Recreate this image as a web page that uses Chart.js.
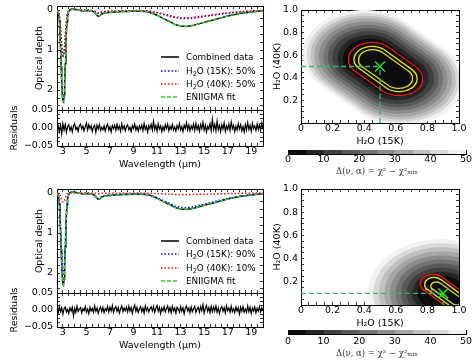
<!DOCTYPE html>
<html><head><meta charset="utf-8">
<script src="https://cdn.jsdelivr.net/npm/chart.js@4.4.0/dist/chart.umd.min.js"></script>
<style>
html,body{margin:0;padding:0;background:#fff;width:474px;height:363px;overflow:hidden;position:relative;font-family:'DejaVu Sans',sans-serif;}
canvas{position:absolute;}
.leg{position:absolute;left:161px;font:8.8px 'DejaVu Sans',sans-serif;color:#000;white-space:nowrap;}
.leg svg{position:absolute;left:0;top:0;}
.leg span{position:absolute;left:25px;top:0;line-height:12px;}
.leg sub{font-size:6.5px;vertical-align:-2px;line-height:0;}
</style></head>
<body>
<script>
// ---------------- DATA ----------------
const wavelength = [2.5,2.6,2.7,2.75,2.8,2.85,2.9,2.95,3.0,3.05,3.1,3.15,3.2,3.25,3.3,3.35,3.4,3.5,3.6,3.8,4.0,4.3,4.6,5.0,5.4,5.7,5.9,6.0,6.1,6.3,6.6,7.0,7.5,8.0,8.5,9.0,9.5,10.0,10.3,10.6,11.0,11.5,12.0,12.5,13.0,13.5,14.0,14.5,15.0,15.5,16.0,16.5,17.0,17.5,18.0,18.5,19.0,19.5,20.0];
const combinedData = [0.02,0.05,0.25,0.55,0.95,1.40,1.80,2.10,2.28,2.30,2.15,1.80,1.35,0.90,0.55,0.30,0.15,0.04,-0.01,-0.03,-0.02,0.00,0.02,0.01,0.02,0.06,0.13,0.16,0.15,0.10,0.07,0.06,0.05,0.04,0.035,0.03,0.03,0.035,0.05,0.08,0.13,0.21,0.28,0.36,0.40,0.41,0.39,0.35,0.31,0.27,0.23,0.19,0.15,0.12,0.09,0.07,0.05,0.03,0.02];
const fitTop = [0.02,0.05,0.24,0.54,0.96,1.41,1.81,2.11,2.29,2.30,2.14,1.79,1.34,0.89,0.54,0.29,0.14,0.04,-0.01,-0.03,-0.02,0.00,0.02,0.01,0.02,0.06,0.13,0.16,0.15,0.10,0.07,0.06,0.05,0.04,0.035,0.03,0.03,0.035,0.05,0.08,0.13,0.21,0.28,0.36,0.40,0.41,0.39,0.35,0.31,0.27,0.23,0.19,0.15,0.12,0.09,0.07,0.05,0.03,0.02];
const h2o15Top = [0.01,0.03,0.13,0.28,0.49,0.72,0.92,1.07,1.15,1.15,1.07,0.89,0.66,0.44,0.27,0.15,0.07,0.02,-0.005,-0.015,-0.01,0.00,0.01,0.005,0.01,0.03,0.07,0.08,0.075,0.05,0.035,0.03,0.025,0.02,0.018,0.015,0.015,0.018,0.026,0.042,0.068,0.11,0.15,0.19,0.21,0.215,0.205,0.185,0.165,0.14,0.12,0.10,0.08,0.062,0.047,0.036,0.026,0.016,0.01];
const h2o40Top = [0.01,0.02,0.12,0.27,0.46,0.68,0.88,1.03,1.13,1.15,1.08,0.91,0.69,0.46,0.28,0.15,0.08,0.02,-0.005,-0.015,-0.01,0.00,0.01,0.005,0.01,0.03,0.06,0.08,0.075,0.05,0.035,0.03,0.025,0.02,0.017,0.015,0.015,0.017,0.024,0.038,0.062,0.10,0.13,0.17,0.19,0.195,0.185,0.165,0.145,0.13,0.11,0.09,0.07,0.058,0.043,0.034,0.024,0.014,0.01];
const fitBot = [0.02,0.05,0.25,0.56,0.96,1.40,1.79,2.09,2.27,2.30,2.16,1.81,1.35,0.90,0.55,0.30,0.15,0.04,-0.01,-0.03,-0.02,0.00,0.02,0.01,0.02,0.06,0.13,0.16,0.15,0.10,0.07,0.06,0.05,0.04,0.035,0.03,0.03,0.035,0.05,0.08,0.13,0.21,0.28,0.36,0.40,0.41,0.39,0.35,0.31,0.27,0.23,0.19,0.15,0.12,0.09,0.07,0.05,0.03,0.02];
const h2o15Bot = [0.02,0.045,0.22,0.50,0.86,1.26,1.62,1.89,2.05,2.07,1.94,1.62,1.22,0.81,0.50,0.27,0.13,0.035,-0.01,-0.027,-0.018,0.00,0.018,0.009,0.018,0.054,0.117,0.144,0.135,0.09,0.063,0.054,0.045,0.036,0.032,0.027,0.027,0.032,0.045,0.072,0.117,0.19,0.25,0.325,0.36,0.37,0.35,0.315,0.28,0.245,0.205,0.17,0.135,0.11,0.08,0.063,0.045,0.027,0.018];
const h2o40Bot = [0.002,0.005,0.025,0.055,0.095,0.14,0.18,0.21,0.23,0.23,0.215,0.18,0.135,0.09,0.055,0.03,0.015,0.004,-0.001,-0.003,-0.002,0.00,0.002,0.001,0.002,0.006,0.013,0.016,0.015,0.01,0.007,0.006,0.005,0.004,0.0035,0.003,0.003,0.0035,0.005,0.008,0.013,0.021,0.028,0.036,0.04,0.041,0.039,0.035,0.031,0.027,0.023,0.019,0.015,0.012,0.009,0.007,0.005,0.003,0.002];

const residTop = [-0.004,0.006,-0.010,0.008,-0.016,0.012,-0.006,0.010,-0.012,0.004,
 0.009,-0.007,0.003,-0.011,0.006,0.012,-0.004,0.002,-0.009,0.007,
 0.011,-0.003,0.005,-0.008,0.004,0.014,-0.006,0.009,-0.002,0.006,
 -0.010,0.003,0.007,-0.012,0.008,-0.003,0.010,-0.007,0.002,-0.005,
 0.006,-0.009,0.004,0.011,-0.006,0.003,-0.011,0.007,-0.002,0.008,
 -0.006,0.010,-0.004,0.005,-0.009,0.012,-0.003,0.006,-0.008,0.004,
 0.009,-0.005,0.002,-0.010,0.007,-0.002,0.011,-0.006,0.004,-0.009,
 0.006,-0.003,0.008,-0.007,0.013,-0.004,0.005,-0.011,0.007,-0.002,
 0.010,-0.006,0.018,-0.004,0.007,-0.009,0.012,-0.003,0.006,-0.010,
 0.004,-0.007,0.009,-0.002,0.011,-0.008,0.005,-0.004,0.010,-0.006,
 0.003,-0.009,0.007,-0.003,0.012,-0.006,0.004,-0.010,0.008,-0.002,
 0.015,-0.005,0.009,-0.008,0.006,-0.003,0.011,-0.007,0.013,-0.004,
 0.007,-0.009,0.010,-0.002,0.016,-0.006,0.008,-0.011,0.005,-0.003,
 0.012,-0.007,0.024,-0.004,0.010,-0.008,0.019,-0.005,0.007,-0.010,
 0.009,-0.003,0.014,-0.009,0.006,-0.004,0.011,-0.007,0.017,-0.002,
 0.008,-0.010,0.005,-0.006,0.012,-0.003,0.009,-0.008,0.004,-0.011,
 0.010,-0.005,0.015,-0.004,0.007,-0.009,0.013,-0.002,0.006,-0.007,
 0.011,-0.004,0.009,-0.006,0.014,-0.003];
const residBot = [0.003,-0.008,0.010,-0.005,0.007,-0.012,0.004,0.009,-0.006,0.002,
 -0.010,0.006,-0.003,0.008,-0.018,0.005,-0.007,0.011,-0.004,0.003,
 0.007,-0.009,0.004,-0.002,0.010,-0.006,0.003,-0.011,0.008,-0.003,
 0.005,-0.007,0.012,-0.004,0.006,-0.010,0.002,0.009,-0.005,0.007,
 -0.008,0.004,-0.002,0.011,-0.006,0.008,-0.003,0.013,-0.007,0.005,
 0.010,-0.004,0.007,-0.009,0.003,0.012,-0.005,0.006,-0.002,0.009,
 -0.006,0.011,-0.003,0.007,-0.010,0.005,0.014,-0.004,0.008,-0.007,
 0.003,0.010,-0.005,0.006,-0.009,0.012,-0.002,0.007,-0.006,0.004,
 0.009,-0.003,0.011,-0.007,0.005,0.013,-0.004,0.008,-0.010,0.006,
 -0.002,0.010,-0.006,0.004,0.012,-0.005,0.007,-0.008,0.011,-0.003,
 0.006,-0.009,0.008,0.003,-0.006,0.010,-0.004,0.007,-0.011,0.005,
 0.012,-0.003,0.006,-0.008,0.009,-0.005,0.004,0.011,-0.007,0.003,
 0.008,-0.006,0.010,-0.002,0.016,-0.009,0.005,0.013,-0.004,0.007,
 -0.008,0.011,-0.005,0.009,-0.003,0.012,-0.007,0.006,-0.010,0.004,
 0.010,-0.004,0.007,-0.009,0.013,-0.002,0.006,-0.007,0.011,-0.005,
 0.004,-0.008,0.009,-0.003,0.006,-0.012,0.008,-0.004,0.010,-0.006,
 0.003,-0.007,0.012,-0.005,0.008,-0.010,0.006,-0.003,0.009,-0.008,
 0.005,-0.004,0.010,-0.006,0.007,-0.003];

const waveLabels = [3,5,7,9,11,13,15,17,19];
const depthLabels = [0,1,2];
const residLabels = [-0.05,0,0.05];
const fracLabels = [0,0.2,0.4,0.6,0.8,1.0];
const cbarLabels = [0,10,20,30,40,50];
const cbarLevels = [0,5,10,15,20,25,30,35,40,45,50];

// chi-square contour geometry (centre, half-length, radius in data units)
const topBandCenter = [0.52,0.49];
const topBandHalfLen = [0.12,0.125,0.13,0.135,0.14,0.145,0.15,0.155,0.16,0.17];
const topBandRadius  = [0.17,0.20,0.23,0.255,0.28,0.305,0.33,0.35,0.37,0.39];
const topLineCenter = [0.535,0.478];
const topLineHalfLen = [0.12,0.12,0.115];
const topLineRadius  = [0.15,0.115,0.09];
const topBest = [0.5,0.5];

const botBandCenter = [0.93,0.06];
const botBandHalfLen = [0.06,0.06,0.06,0.06,0.06,0.06,0.06,0.06,0.06,0.06];
const botBandRadius  = [0.15,0.185,0.22,0.255,0.29,0.325,0.36,0.395,0.43,0.465];
const botLineCenter = [0.92,0.1];
const botLineHalfLen = [0.12,0.11,0.09];
const botLineRadius  = [0.08,0.06,0.035];
const botBest = [0.9,0.1];

// ---------------- SETUP ----------------
const FS = 9.5;
Chart.defaults.font.family = "'DejaVu Sans', sans-serif";
Chart.defaults.font.size = FS;
Chart.defaults.color = '#000';

const pts = (xs, ys) => xs.map((x,i)=>({x, y: ys[i]}));
const residWave = residTop.map((_,i)=> +(2.5+0.1*i).toFixed(1));
const waveTicks = []; for (let i=0;i<=34;i++) waveTicks.push(3+0.5*i);
const depthTicks = []; for (let i=0;i<=12;i++) depthTicks.push(+(0.2*i).toFixed(1));
const residTicks = []; for (let i=-4;i<=4;i++) residTicks.push(+(0.0125*i).toFixed(4));
const fracTicks = []; for (let i=0;i<=20;i++) fracTicks.push(+(0.05*i).toFixed(2));
const near = (a,b)=>Math.abs(a-b)<1e-9;
const noPad = s => { s.paddingLeft=0; s.paddingRight=0; s.paddingTop=0; s.paddingBottom=0; };

function mk(left, top, w, h, cfg){
  const c=document.createElement('canvas'); c.width=w; c.height=h;
  c.style.left=left+'px'; c.style.top=top+'px'; c.style.width=w+'px'; c.style.height=h+'px';
  document.body.appendChild(c);
  cfg.options = Object.assign({responsive:false, maintainAspectRatio:false, animation:false, devicePixelRatio:1, events:[],
    layout:{padding:0}, plugins:{legend:{display:false}, tooltip:{enabled:false}}}, cfg.options);
  return new Chart(c, cfg);
}

function axis(pos, min, max, vals, labelFn, o){
  const isX = pos==='top'||pos==='bottom';
  return {
    type:'linear', position:pos, min, max, reverse: !!o.reverse,
    afterBuildTicks: s => { s.ticks = vals.map(v=>({value:v})); },
    afterFit: s => { if(isX) s.height=o.size; else s.width=o.size; noPad(s); },
    ticks: { display: !!labelFn, autoSkip:false, maxRotation:0, minRotation:0, padding: o.pad ?? 7,
             color:'#000', font:{size:FS}, callback: v => labelFn ? labelFn(v) : '' },
    grid: { drawOnChartArea:false, drawTicks:true, tickLength:-3, color:'#000', lineWidth:0.8 },
    border: { display:true, color:'#000', width:1 },
    title: o.title ? { display:true, text:o.title, color:'#000', font:{size:FS}, padding:o.tpad } : {display:false}
  };
}

const waveLab = v => waveLabels.some(w=>near(w,v)) ? String(v) : '';
const depthLab = v => depthLabels.some(w=>near(w,v)) ? String(v) : '';
const residLab = v => residLabels.some(w=>near(w,v)) ? (near(v,0)?'0.00':(v<0?'\u22120.05':'0.05')) : '';
const fracLabX = v => fracLabels.some(w=>near(w,v)) ? (near(v,0)?'0':v.toFixed(1)) : '';
const fracLabY = v => (fracLabels.some(w=>near(w,v)) && !near(v,0)) ? v.toFixed(1) : '';

function lineDs(x, y, color, width, dash, order){
  return {data: pts(x,y), showLine:true, pointRadius:0, borderColor:color, borderWidth:width, borderDash:dash, fill:false, order};
}

function specChart(top, h15, h40, fit){
  return mk(0, top, 270, 112, {type:'scatter', data:{datasets:[
      lineDs(wavelength, combinedData, '#000', 1.5, [], 3),
      lineDs(wavelength, h15, '#0000ff', 1.5, [1.5,2], 2),
      lineDs(wavelength, h40, '#ff0000', 1.5, [1.5,2], 1),
      lineDs(wavelength, fit, '#33cc33', 1.3, [4,2], 0)
    ]},
    options:{scales:{
      x: axis('bottom',2.5,20,waveTicks,null,{size:2}),
      x2: axis('top',2.5,20,waveTicks,null,{size:6}),
      y: axis('left',-0.1,2.5,depthTicks,depthLab,{size:57,pad:7,reverse:true,title:'Optical depth',tpad:{top:33.5,bottom:0}}),
      y2: axis('right',-0.1,2.5,depthTicks,null,{size:7,reverse:true})
    }}});
}

function residChart(top, h, areaH, resid, tpb){
  return mk(0, top, 270, h, {type:'scatter', data:{datasets:[
      lineDs(residWave, resid, '#000', 1.2, [], 0)
    ]},
    options:{scales:{
      x: axis('bottom',2.5,20,waveTicks,waveLab,{size:h-10-areaH,pad:3.3,title:'Wavelength (\u03bcm)',tpad:{top:0,bottom:tpb}}),
      x2: axis('top',2.5,20,waveTicks,null,{size:10}),
      y: axis('left',-0.05,0.05,residTicks,residLab,{size:57,pad:7,title:'Residuals',tpad:{top:9.3,bottom:0}}),
      y2: axis('right',-0.05,0.05,residTicks,null,{size:7})
    }}});
}

function stadium(cx, cy, L, r){
  const dx=Math.SQRT1_2, dy=-Math.SQRT1_2, out=[];
  for(let i=0;i<=120;i++){
    const t=2*Math.PI*i/120, ux=Math.cos(t), uy=Math.sin(t);
    const s=(ux*dx+uy*dy)>=0?1:-1;
    out.push({x:cx+s*L*dx+r*ux, y:cy+s*L*dy+r*uy});
  }
  return out;
}
const bandGray = k => { const g=Math.round(255*(k+0.5)/10); return `rgb(${g},${g},${g})`; };

function contourChart(top, h, topSize, P){
  const ds=[];
  for(let k=P.bR.length-1;k>=0;k--){
    ds.push({data:stadium(P.bC[0],P.bC[1],P.bL[k],P.bR[k]), showLine:true, pointRadius:0, borderWidth:0,
      borderColor:'rgba(0,0,0,0)', backgroundColor:bandGray(k), fill:'shape', order:100+k});
  }
  const lc=['#e8141c','#e6e21c','#d6dc1e'];
  P.lR.forEach((r,i)=>ds.push({data:stadium(P.lC[0],P.lC[1],P.lL[i],r), showLine:true, pointRadius:0,
      borderWidth:1.3, borderColor:lc[i], fill:false, order:10+i}));
  const g='#3cb371';
  ds.push({data:[{x:0,y:P.best[1]},{x:P.best[0],y:P.best[1]}], showLine:true, pointRadius:0, borderColor:g, borderWidth:1.3, borderDash:[5,3], fill:false, order:2});
  ds.push({data:[{x:P.best[0],y:0},{x:P.best[0],y:P.best[1]}], showLine:true, pointRadius:0, borderColor:g, borderWidth:1.3, borderDash:[5,3], fill:false, order:2});
  ds.push({data:[{x:P.best[0],y:P.best[1]}], showLine:false, pointStyle:'crossRot', pointRadius:7, pointBorderWidth:1.5, borderColor:'#22dd22', backgroundColor:'#22dd22', order:0});
  return mk(262, top, 212, h, {type:'scatter', data:{datasets:ds},
    options:{scales:{
      x: axis('bottom',0,1,fracTicks,fracLabX,{size:h-topSize-P.ah,pad:3.3,title:'H\u2082O (15K)',tpad:{top:0,bottom:3}}),
      x2: axis('top',0,1,fracTicks,null,{size:topSize}),
      y: axis('left',0,1,fracTicks,fracLabY,{size:39,pad:6,title:'H\u2082O (40K)',tpad:{top:10.3,bottom:0}}),
      y2: axis('right',0,1,fracTicks,null,{size:15})
    }}});
}

function cbarChart(top, h, areaH, labPad, titlePad){
  const ds = cbarLevels.slice(0,-1).map((v,k)=>({data:[cbarLevels[k+1]-v], backgroundColor:bandGray(k), borderWidth:0,
     barPercentage:1, categoryPercentage:1, stack:'c'}));
  return mk(270, top, 204, h, {type:'bar', data:{labels:[''], datasets:ds},
    options:{indexAxis:'y', layout:{padding:{left:18,right:8,top:0,bottom:0}},
     scales:{
      x:{type:'linear', position:'bottom', stacked:true, min:0, max:50,
         afterBuildTicks:s=>{s.ticks=cbarLabels.map(v=>({value:v}));}, afterFit:s=>{s.height=h-4-areaH; noPad(s);},
         ticks:{autoSkip:false, maxRotation:0, padding:labPad, color:'#000', font:{size:FS}},
         grid:{drawOnChartArea:false, drawTicks:false}, border:{display:true,color:'#000',width:1},
         title:{display:true, text:'\u0394(\u03bd, \u03b1) = \u03c7\u00b2 \u2212 \u03c7\u00b2\u2098\u1d62\u2099', color:'#333',
                font:{family:"'DejaVu Serif', serif", size:8.5}, padding:{top:0,bottom:titlePad}}},
      x2:{type:'linear', position:'top', min:0, max:50, afterFit:s=>{s.height=4; noPad(s);}, ticks:{display:false},
         grid:{drawOnChartArea:false, drawTicks:false}, border:{display:true,color:'#000',width:1}},
      y:{type:'category', position:'left', stacked:true, afterFit:s=>{s.width=0; noPad(s);}, ticks:{display:false},
         grid:{drawOnChartArea:false, drawTicks:false}, border:{display:true,color:'#000',width:1}},
      y2:{type:'category', position:'right', afterFit:s=>{s.width=0; noPad(s);}, ticks:{display:false},
         grid:{drawOnChartArea:false, drawTicks:false}, border:{display:true,color:'#000',width:1}}
     }}});
}

// ---------------- DRAW ----------------
specChart(0, h2o15Top, h2o40Top, fitTop);
residChart(100, 75, 36, residTop, 4.8);
specChart(183, h2o15Bot, h2o40Bot, fitBot);
residChart(283, 73, 34, residBot, 4.6);

contourChart(0, 150, 10, {bC:topBandCenter,bL:topBandHalfLen,bR:topBandRadius,lC:topLineCenter,lL:topLineHalfLen,lR:topLineRadius,best:topBest,ah:113});
contourChart(180, 152, 9, {bC:botBandCenter,bL:botBandHalfLen,bR:botBandRadius,lC:botLineCenter,lL:botLineHalfLen,lR:botLineRadius,best:botBest,ah:116});

cbarChart(146, 34, 4, 0.3, 2.8);
cbarChart(326, 37, 4, 2, 3.8);

// ---------------- LEGENDS ----------------
function legend(rowsY, labels){
  const styles=[['#000','',1.5],['#0000ff','1.5 2',1.5],['#ff0000','1.5 2',1.5],['#33cc33','4 2',1.3]];
  labels.forEach((lab,i)=>{
    const d=document.createElement('div'); d.className='leg'; d.style.top=(rowsY[i]-6)+'px';
    const [c,da,w]=styles[i];
    d.innerHTML=`<svg width="20" height="12"><line x1="0" y1="6" x2="18" y2="6" stroke="${c}" stroke-width="${w}" ${da?`stroke-dasharray="${da}"`:''}/></svg><span>${lab}</span>`;
    document.body.appendChild(d);
  });
}
legend([57.3,70.7,84,97.3], ['Combined data','H<sub>2</sub>O (15K): 50%','H<sub>2</sub>O (40K): 50%','ENIIGMA fit']);
legend([241,254.3,267.7,281], ['Combined data','H<sub>2</sub>O (15K): 90%','H<sub>2</sub>O (40K): 10%','ENIIGMA fit']);
</script>
</body></html>
